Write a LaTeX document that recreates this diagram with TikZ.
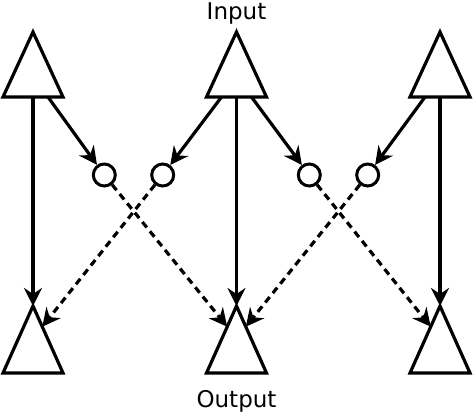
\documentclass[tikz,border=0pt]{standalone}
\usepackage{fontspec}
\setmainfont{DejaVu Sans}
\usetikzlibrary{arrows.meta}
\begin{document}
\begin{tikzpicture}[x=1pt,y=-1pt,
  line width=3.2pt,
  tri/.style={line join=miter},
  arr/.style={-{Stealth[length=18pt,width=18pt,inset=6pt]}},
  darr/.style={arr,dash pattern=on 7pt off 5pt},
  dot/.style={circle,draw,line width=3pt,minimum size=22pt,inner sep=0pt},
  lab/.style={font=\fontsize{23}{27}\selectfont,inner sep=0pt}]
\useasboundingbox (0,0) rectangle (474,414);
% top triangles
\foreach \n/\x in {tl/33,tm/236.5,tr/440}{
  \draw[tri] (\x,32) -- (\x+30,97) -- (\x-30,97) -- cycle;
  \coordinate (\n-c) at (\x,97);
  \coordinate (\n-l) at (\x-15,97);
  \coordinate (\n-r) at (\x+15,97);
}
% bottom triangles
\foreach \n/\x in {bl/33,bm/236.5,br/440}{
  \draw[tri] (\x,306) -- (\x+30,373) -- (\x-30,373) -- cycle;
  \coordinate (\n-a) at (\x,306);
  \coordinate (\n-l) at (\x-9.3,326.7);
  \coordinate (\n-r) at (\x+9.3,326.7);
}
% circles
\node[dot] (c1) at (104.3,175) {};
\node[dot] (c2) at (162.7,175) {};
\node[dot] (c3) at (309.3,175) {};
\node[dot] (c4) at (367.7,175) {};
% labels
\node[lab,anchor=base] (in) at (236.5,20) {Input};
\node[lab,anchor=base] (out) at (236.5,407) {Output};
% solid arrows
\draw[arr] (tl-c) -- (bl-a);
\draw[arr] (tm-c) -- (bm-a);
\draw[arr] (tr-c) -- (br-a);
\draw[arr] (tl-r) -- (c1);
\draw[arr] (tm-l) -- (c2);
\draw[arr] (tm-r) -- (c3);
\draw[arr] (tr-l) -- (c4);
% dashed arrows
\draw[darr] (c1) -- (bm-l);
\draw[darr] (c2) -- (bl-r);
\draw[darr] (c3) -- (br-l);
\draw[darr] (c4) -- (bm-r);
\end{tikzpicture}
\end{document}
